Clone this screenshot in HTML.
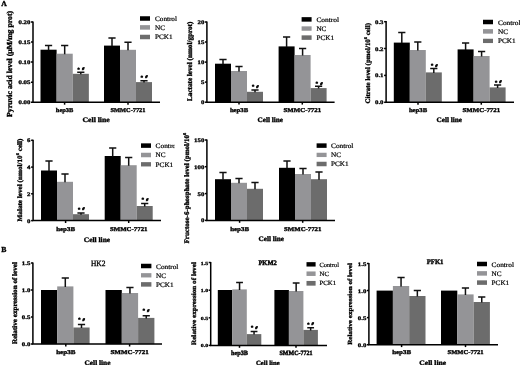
<!DOCTYPE html>
<html lang="en"><head><meta charset="utf-8"><title>Figure</title>
<style>
html,body{margin:0;padding:0;background:#fff;}
body{width:520px;height:365px;overflow:hidden;}
svg{display:block;font-family:"Liberation Serif", serif;filter:blur(0.35px);}
svg text{fill:#111;text-rendering:geometricPrecision;}
svg text.t{fill:#000;stroke:#000;stroke-width:0.3px;}
svg text.l{fill:#000;stroke:#000;stroke-width:0.2px;}
svg text.b{font-weight:bold;fill:#000;stroke:#000;stroke-width:0.34px;}
</style></head><body>
<svg width="520" height="365" viewBox="0 0 520 365">
<rect width="520" height="365" fill="#fff"/>
<g>
<rect x="40.50" y="49.70" width="16.12" height="52.60" fill="#000"/>
<path d="M48.56 50.20V45.60M44.96 45.60H52.16" stroke="#111" stroke-width="1.5" fill="none"/>
<rect x="56.62" y="53.70" width="16.12" height="48.60" fill="#949497"/>
<path d="M64.68 54.20V45.60M61.08 45.60H68.28" stroke="#111" stroke-width="1.5" fill="none"/>
<rect x="72.74" y="73.80" width="16.12" height="28.50" fill="#6c6c6c"/>
<path d="M80.80 74.30V72.20M77.20 72.20H84.40" stroke="#111" stroke-width="1.5" fill="none"/>
<rect x="104.00" y="45.60" width="16.00" height="56.70" fill="#000"/>
<path d="M112.00 46.10V38.00M108.40 38.00H115.60" stroke="#111" stroke-width="1.5" fill="none"/>
<rect x="120.00" y="49.80" width="16.00" height="52.50" fill="#949497"/>
<path d="M128.00 50.30V42.20M124.40 42.20H131.60" stroke="#111" stroke-width="1.5" fill="none"/>
<rect x="136.00" y="82.10" width="16.00" height="20.20" fill="#6c6c6c"/>
<path d="M144.00 82.60V80.70M140.40 80.70H147.60" stroke="#111" stroke-width="1.5" fill="none"/>
<path d="M33.0 21.4V102.3H160" stroke="#000" stroke-width="1.5" fill="none"/>
<path d="M31.00 22.0H33.0" stroke="#000" stroke-width="1.5"/>
<text font-size="6.28" transform="translate(30.4 24.0) scale(1.0830 0.87)" class="b" text-anchor="end">0.20</text>
<path d="M31.00 42.1H33.0" stroke="#000" stroke-width="1.5"/>
<text font-size="6.28" transform="translate(30.4 44.1) scale(1.0830 0.87)" class="b" text-anchor="end">0.15</text>
<path d="M31.00 62.1H33.0" stroke="#000" stroke-width="1.5"/>
<text font-size="6.28" transform="translate(30.4 64.1) scale(1.0830 0.87)" class="b" text-anchor="end">0.10</text>
<path d="M31.00 82.2H33.0" stroke="#000" stroke-width="1.5"/>
<text font-size="6.28" transform="translate(30.4 84.2) scale(1.0830 0.87)" class="b" text-anchor="end">0.05</text>
<path d="M31.00 102.3H33.0" stroke="#000" stroke-width="1.5"/>
<text font-size="6.28" transform="translate(30.4 104.3) scale(1.0830 0.87)" class="b" text-anchor="end">0.00</text>
<path d="M64.6 102.3V104.7" stroke="#000" stroke-width="1.5"/>
<text font-size="5.91" transform="translate(64.6 111.7) scale(1.0874 1.0)" class="b" text-anchor="middle">hep3B</text>
<path d="M128 102.3V104.7" stroke="#000" stroke-width="1.5"/>
<text font-size="5.91" transform="translate(128 111.7) scale(1.0740 1.0)" class="b" text-anchor="middle">SMMC-7721</text>
<text font-size="6.96" transform="translate(96.1 121.8) scale(1.1073 1.0)" class="b" text-anchor="middle">Cell line</text>
<text font-size="7.20" transform="translate(12.2 63.9) rotate(-90) scale(1.0801 1.07)" class="b" text-anchor="middle">Pyruvic acid level (μM/mg prot)</text>
<text font-size="4.99" transform="translate(78.7 70.95) scale(1.0830 1.0)" class="b" text-anchor="middle">*</text>
<text font-size="4.34" transform="translate(83.1 70.2) scale(1.0830 1.0)" class="b" text-anchor="middle" font-style="italic">#</text>
<text font-size="4.99" transform="translate(141.89999999999998 78.75) scale(1.0830 1.0)" class="b" text-anchor="middle">*</text>
<text font-size="4.34" transform="translate(146.29999999999998 78.0) scale(1.0830 1.0)" class="b" text-anchor="middle" font-style="italic">#</text>
<rect x="140" y="16.25" width="10.00" height="4.50" fill="#000"/>
<text font-size="6.79" transform="translate(155 21.0) scale(1.0599 1.0)" class="l">Control</text>
<rect x="140" y="25.15" width="10.00" height="4.50" fill="#949497"/>
<text font-size="6.79" transform="translate(155 29.599999999999998) scale(1.0600 1.0)" class="l">NC</text>
<rect x="140" y="34.75" width="10.00" height="4.50" fill="#6c6c6c"/>
<text font-size="6.79" transform="translate(155 39.2) scale(1.0600 1.0)" class="l">PCK1</text>
</g>
<g>
<rect x="215.00" y="63.70" width="16.00" height="38.50" fill="#000"/>
<path d="M223.00 64.20V59.60M219.40 59.60H226.60" stroke="#111" stroke-width="1.5" fill="none"/>
<rect x="231.00" y="71.00" width="16.00" height="31.20" fill="#949497"/>
<path d="M239.00 71.50V66.40M235.40 66.40H242.60" stroke="#111" stroke-width="1.5" fill="none"/>
<rect x="247.00" y="91.80" width="16.00" height="10.40" fill="#6c6c6c"/>
<path d="M255.00 92.30V90.00M251.40 90.00H258.60" stroke="#111" stroke-width="1.5" fill="none"/>
<rect x="278.60" y="46.40" width="16.00" height="55.80" fill="#000"/>
<path d="M286.60 46.90V37.00M283.00 37.00H290.20" stroke="#111" stroke-width="1.5" fill="none"/>
<rect x="294.60" y="55.00" width="16.00" height="47.20" fill="#949497"/>
<path d="M302.60 55.50V48.60M299.00 48.60H306.20" stroke="#111" stroke-width="1.5" fill="none"/>
<rect x="310.60" y="88.10" width="16.00" height="14.10" fill="#6c6c6c"/>
<path d="M318.60 88.60V86.20M315.00 86.20H322.20" stroke="#111" stroke-width="1.5" fill="none"/>
<path d="M206.9 21.4V102.2H334.6" stroke="#000" stroke-width="1.5" fill="none"/>
<path d="M204.90 22.0H206.9" stroke="#000" stroke-width="1.5"/>
<text font-size="6.28" transform="translate(204.3 24.0) scale(1.0830 0.87)" class="b" text-anchor="end">20</text>
<path d="M204.90 42.0H206.9" stroke="#000" stroke-width="1.5"/>
<text font-size="6.28" transform="translate(204.3 44.0) scale(1.0830 0.87)" class="b" text-anchor="end">15</text>
<path d="M204.90 62.1H206.9" stroke="#000" stroke-width="1.5"/>
<text font-size="6.28" transform="translate(204.3 64.1) scale(1.0830 0.87)" class="b" text-anchor="end">10</text>
<path d="M204.90 82.1H206.9" stroke="#000" stroke-width="1.5"/>
<text font-size="6.28" transform="translate(204.3 84.1) scale(1.0830 0.87)" class="b" text-anchor="end">5</text>
<path d="M204.90 102.2H206.9" stroke="#000" stroke-width="1.5"/>
<text font-size="6.28" transform="translate(204.3 104.2) scale(1.0830 0.87)" class="b" text-anchor="end">0</text>
<path d="M239 102.2V104.60000000000001" stroke="#000" stroke-width="1.5"/>
<text font-size="5.91" transform="translate(239 111.7) scale(1.1309 1.0)" class="b" text-anchor="middle">hep3B</text>
<path d="M302.3 102.2V104.60000000000001" stroke="#000" stroke-width="1.5"/>
<text font-size="5.91" transform="translate(302.3 111.7) scale(1.1570 1.0)" class="b" text-anchor="middle">SMMC-7721</text>
<text font-size="6.96" transform="translate(270.3 121.8) scale(1.0421 1.0)" class="b" text-anchor="middle">Cell line</text>
<text font-size="7.20" transform="translate(192.4 61.3) rotate(-90) scale(0.9944 1.0)" class="b" text-anchor="middle">Lactate level (nmol/gprot)</text>
<text font-size="4.99" transform="translate(253.1 88.35000000000001) scale(1.0830 1.0)" class="b" text-anchor="middle">*</text>
<text font-size="4.34" transform="translate(257.5 87.60000000000001) scale(1.0830 1.0)" class="b" text-anchor="middle" font-style="italic">#</text>
<text font-size="4.99" transform="translate(316.9 85.25) scale(1.0830 1.0)" class="b" text-anchor="middle">*</text>
<text font-size="4.34" transform="translate(321.3 84.5) scale(1.0830 1.0)" class="b" text-anchor="middle" font-style="italic">#</text>
<rect x="301.6" y="17.15" width="10.00" height="4.50" fill="#000"/>
<text font-size="6.79" transform="translate(316.4 21.9) scale(1.0937 1.0)" class="l">Control</text>
<rect x="301.6" y="26.35" width="10.00" height="4.40" fill="#949497"/>
<text font-size="6.79" transform="translate(316.4 30.75) scale(1.0600 1.0)" class="l">NC</text>
<rect x="301.6" y="35.35" width="10.00" height="4.50" fill="#6c6c6c"/>
<text font-size="6.79" transform="translate(316.4 39.800000000000004) scale(1.0600 1.0)" class="l">PCK1</text>
</g>
<g>
<rect x="393.80" y="42.60" width="16.00" height="59.70" fill="#000"/>
<path d="M401.80 43.10V32.40M398.20 32.40H405.40" stroke="#111" stroke-width="1.5" fill="none"/>
<rect x="409.80" y="50.00" width="16.00" height="52.30" fill="#949497"/>
<path d="M417.80 50.50V42.00M414.20 42.00H421.40" stroke="#111" stroke-width="1.5" fill="none"/>
<rect x="425.80" y="72.40" width="16.00" height="29.90" fill="#6c6c6c"/>
<path d="M433.80 72.90V68.40M430.20 68.40H437.40" stroke="#111" stroke-width="1.5" fill="none"/>
<rect x="457.60" y="49.40" width="16.00" height="52.90" fill="#000"/>
<path d="M465.60 49.90V43.00M462.00 43.00H469.20" stroke="#111" stroke-width="1.5" fill="none"/>
<rect x="473.60" y="56.00" width="16.00" height="46.30" fill="#949497"/>
<path d="M481.60 56.50V51.60M478.00 51.60H485.20" stroke="#111" stroke-width="1.5" fill="none"/>
<rect x="489.60" y="87.40" width="16.00" height="14.90" fill="#6c6c6c"/>
<path d="M497.60 87.90V85.00M494.00 85.00H501.20" stroke="#111" stroke-width="1.5" fill="none"/>
<path d="M386.1 21.099999999999998V102.3H514" stroke="#000" stroke-width="1.5" fill="none"/>
<path d="M384.10 21.7H386.1" stroke="#000" stroke-width="1.5"/>
<text font-size="6.28" transform="translate(383.5 23.7) scale(1.0830 0.87)" class="b" text-anchor="end">0.3</text>
<path d="M384.10 48.5H386.1" stroke="#000" stroke-width="1.5"/>
<text font-size="6.28" transform="translate(383.5 50.5) scale(1.0830 0.87)" class="b" text-anchor="end">0.2</text>
<path d="M384.10 75.4H386.1" stroke="#000" stroke-width="1.5"/>
<text font-size="6.28" transform="translate(383.5 77.4) scale(1.0830 0.87)" class="b" text-anchor="end">0.1</text>
<path d="M384.10 102.3H386.1" stroke="#000" stroke-width="1.5"/>
<text font-size="6.28" transform="translate(383.5 104.3) scale(1.0830 0.87)" class="b" text-anchor="end">0.0</text>
<path d="M418 102.3V104.7" stroke="#000" stroke-width="1.5"/>
<text font-size="5.91" transform="translate(418 111.7) scale(1.1309 1.0)" class="b" text-anchor="middle">hep3B</text>
<path d="M481.3 102.3V104.7" stroke="#000" stroke-width="1.5"/>
<text font-size="5.91" transform="translate(481.3 111.7) scale(1.1570 1.0)" class="b" text-anchor="middle">SMMC-7721</text>
<text font-size="6.96" transform="translate(449.3 122.3) scale(1.0421 1.0)" class="b" text-anchor="middle">Cell line</text>
<text font-size="7.20" transform="translate(369.6 63.25) rotate(-90) scale(0.9653 0.95)" class="b" text-anchor="middle">Citrate level (pmol/10<tspan font-size="4.46" dy="-2.59">6</tspan><tspan dy="2.59"> cell)</tspan></text>
<text font-size="4.99" transform="translate(432.09999999999997 67.35000000000001) scale(1.0830 1.0)" class="b" text-anchor="middle">*</text>
<text font-size="4.34" transform="translate(436.5 66.60000000000001) scale(1.0830 1.0)" class="b" text-anchor="middle" font-style="italic">#</text>
<text font-size="4.99" transform="translate(496.09999999999997 83.55) scale(1.0830 1.0)" class="b" text-anchor="middle">*</text>
<text font-size="4.34" transform="translate(500.5 82.8) scale(1.0830 1.0)" class="b" text-anchor="middle" font-style="italic">#</text>
<rect x="483" y="19.75" width="10.00" height="4.50" fill="#000"/>
<text font-size="6.79" transform="translate(498 24.5) scale(1.0840 1.0)" class="l">Control</text>
<rect x="483" y="29.15" width="10.00" height="4.50" fill="#949497"/>
<text font-size="6.79" transform="translate(498 33.6) scale(1.0600 1.0)" class="l">NC</text>
<rect x="483" y="38.75" width="10.00" height="4.30" fill="#6c6c6c"/>
<text font-size="6.79" transform="translate(498 43.1) scale(1.0600 1.0)" class="l">PCK1</text>
</g>
<g>
<rect x="41.00" y="170.50" width="16.00" height="50.10" fill="#000"/>
<path d="M49.00 171.00V161.00M45.40 161.00H52.60" stroke="#111" stroke-width="1.5" fill="none"/>
<rect x="57.00" y="181.80" width="16.00" height="38.80" fill="#949497"/>
<path d="M65.00 182.30V174.00M61.40 174.00H68.60" stroke="#111" stroke-width="1.5" fill="none"/>
<rect x="73.00" y="214.20" width="16.00" height="6.40" fill="#6c6c6c"/>
<path d="M81.00 214.70V213.00M77.40 213.00H84.60" stroke="#111" stroke-width="1.5" fill="none"/>
<rect x="104.70" y="156.00" width="16.00" height="64.60" fill="#000"/>
<path d="M112.70 156.50V148.00M109.10 148.00H116.30" stroke="#111" stroke-width="1.5" fill="none"/>
<rect x="120.70" y="165.20" width="16.00" height="55.40" fill="#949497"/>
<path d="M128.70 165.70V157.40M125.10 157.40H132.30" stroke="#111" stroke-width="1.5" fill="none"/>
<rect x="136.70" y="206.00" width="16.00" height="14.60" fill="#6c6c6c"/>
<path d="M144.70 206.50V203.50M141.10 203.50H148.30" stroke="#111" stroke-width="1.5" fill="none"/>
<path d="M33.1 139.70000000000002V220.6H161" stroke="#000" stroke-width="1.5" fill="none"/>
<path d="M31.10 140.3H33.1" stroke="#000" stroke-width="1.5"/>
<text font-size="6.28" transform="translate(30.5 142.3) scale(1.0830 0.87)" class="b" text-anchor="end">6</text>
<path d="M31.10 167.1H33.1" stroke="#000" stroke-width="1.5"/>
<text font-size="6.28" transform="translate(30.5 169.1) scale(1.0830 0.87)" class="b" text-anchor="end">4</text>
<path d="M31.10 193.8H33.1" stroke="#000" stroke-width="1.5"/>
<text font-size="6.28" transform="translate(30.5 195.8) scale(1.0830 0.87)" class="b" text-anchor="end">2</text>
<path d="M31.10 220.6H33.1" stroke="#000" stroke-width="1.5"/>
<text font-size="6.28" transform="translate(30.5 222.6) scale(1.0830 0.87)" class="b" text-anchor="end">0</text>
<path d="M65.6 220.6V223.0" stroke="#000" stroke-width="1.5"/>
<text font-size="5.91" transform="translate(65.6 230.70000000000002) scale(1.1744 1.0)" class="b" text-anchor="middle">hep3B</text>
<path d="M128.7 220.6V223.0" stroke="#000" stroke-width="1.5"/>
<text font-size="5.91" transform="translate(128.7 230.70000000000002) scale(1.1540 1.0)" class="b" text-anchor="middle">SMMC-7721</text>
<text font-size="6.96" transform="translate(97 241.7) scale(1.0706 1.0)" class="b" text-anchor="middle">Cell line</text>
<text font-size="7.20" transform="translate(21.8 180.0) rotate(-90) scale(0.9976 0.95)" class="b" text-anchor="middle">Malate level (nmol/10<tspan font-size="4.46" dy="-2.59">6</tspan><tspan dy="2.59"> cell)</tspan></text>
<text font-size="4.99" transform="translate(79.10000000000001 210.75) scale(1.0830 1.0)" class="b" text-anchor="middle">*</text>
<text font-size="4.34" transform="translate(83.5 210.0) scale(1.0830 1.0)" class="b" text-anchor="middle" font-style="italic">#</text>
<text font-size="4.99" transform="translate(142.79999999999998 201.25) scale(1.0830 1.0)" class="b" text-anchor="middle">*</text>
<text font-size="4.34" transform="translate(147.2 200.5) scale(1.0830 1.0)" class="b" text-anchor="middle" font-style="italic">#</text>
<rect x="141" y="143.35" width="10.00" height="4.50" fill="#000"/>
<text font-size="6.79" transform="translate(155.6 148.1) scale(1.0840 1.0)" class="l">Control</text>
<rect x="141" y="152.75" width="10.00" height="4.50" fill="#949497"/>
<text font-size="6.79" transform="translate(155.6 157.2) scale(1.0600 1.0)" class="l">NC</text>
<rect x="141" y="162.15" width="10.00" height="4.30" fill="#6c6c6c"/>
<text font-size="6.79" transform="translate(155.6 166.5) scale(1.0600 1.0)" class="l">PCK1</text>
</g>
<rect x="174.6" y="136" width="20" height="20" fill="#fff"/>
<g>
<rect x="215.00" y="179.20" width="16.00" height="41.20" fill="#000"/>
<path d="M223.00 179.70V172.40M219.40 172.40H226.60" stroke="#111" stroke-width="1.5" fill="none"/>
<rect x="231.00" y="182.80" width="16.00" height="37.60" fill="#949497"/>
<path d="M239.00 183.30V178.60M235.40 178.60H242.60" stroke="#111" stroke-width="1.5" fill="none"/>
<rect x="247.00" y="188.80" width="16.00" height="31.60" fill="#6c6c6c"/>
<path d="M255.00 189.30V182.60M251.40 182.60H258.60" stroke="#111" stroke-width="1.5" fill="none"/>
<rect x="279.00" y="167.80" width="16.00" height="52.60" fill="#000"/>
<path d="M287.00 168.30V161.00M283.40 161.00H290.60" stroke="#111" stroke-width="1.5" fill="none"/>
<rect x="295.00" y="174.00" width="16.00" height="46.40" fill="#949497"/>
<path d="M303.00 174.50V168.60M299.40 168.60H306.60" stroke="#111" stroke-width="1.5" fill="none"/>
<rect x="311.00" y="179.20" width="16.00" height="41.20" fill="#6c6c6c"/>
<path d="M319.00 179.70V172.00M315.40 172.00H322.60" stroke="#111" stroke-width="1.5" fill="none"/>
<path d="M206.9 139.4V220.4H335" stroke="#000" stroke-width="1.5" fill="none"/>
<path d="M204.90 140H206.9" stroke="#000" stroke-width="1.5"/>
<text font-size="6.28" transform="translate(204.3 142.0) scale(1.0830 0.87)" class="b" text-anchor="end">150</text>
<path d="M204.90 166.7H206.9" stroke="#000" stroke-width="1.5"/>
<text font-size="6.28" transform="translate(204.3 168.7) scale(1.0830 0.87)" class="b" text-anchor="end">100</text>
<path d="M204.90 193.6H206.9" stroke="#000" stroke-width="1.5"/>
<text font-size="6.28" transform="translate(204.3 195.6) scale(1.0830 0.87)" class="b" text-anchor="end">50</text>
<path d="M204.90 220.4H206.9" stroke="#000" stroke-width="1.5"/>
<text font-size="6.28" transform="translate(204.3 222.4) scale(1.0830 0.87)" class="b" text-anchor="end">0</text>
<path d="M239.6 220.4V222.8" stroke="#000" stroke-width="1.5"/>
<text font-size="5.91" transform="translate(239.6 230.70000000000002) scale(1.1744 1.0)" class="b" text-anchor="middle">hep3B</text>
<path d="M302.7 220.4V222.8" stroke="#000" stroke-width="1.5"/>
<text font-size="5.91" transform="translate(302.7 230.70000000000002) scale(1.1509 1.0)" class="b" text-anchor="middle">SMMC-7721</text>
<text font-size="6.96" transform="translate(271.3 241.4) scale(1.0381 1.0)" class="b" text-anchor="middle">Cell line</text>
<text font-size="7.20" transform="translate(189 188.15) rotate(-90) scale(0.9726 0.97)" class="b" text-anchor="middle">Fructose-6-phosphate level (pmol/10<tspan font-size="4.46" dy="-2.59">6</tspan></text>
<rect x="316.6" y="143.35" width="10.00" height="4.50" fill="#000"/>
<text font-size="6.79" transform="translate(331 148.1) scale(1.0792 1.0)" class="l">Control</text>
<rect x="316.6" y="152.75" width="10.00" height="4.30" fill="#949497"/>
<text font-size="6.79" transform="translate(331 157.1) scale(1.0600 1.0)" class="l">NC</text>
<rect x="316.6" y="161.75" width="10.00" height="4.50" fill="#6c6c6c"/>
<text font-size="6.79" transform="translate(331 166.2) scale(1.0600 1.0)" class="l">PCK1</text>
</g>
<g>
<rect x="41.00" y="290.00" width="16.20" height="54.10" fill="#000"/>
<rect x="57.20" y="286.40" width="16.20" height="57.70" fill="#949497"/>
<path d="M65.30 286.90V278.00M61.70 278.00H68.90" stroke="#111" stroke-width="1.5" fill="none"/>
<rect x="73.40" y="327.50" width="16.20" height="16.60" fill="#6c6c6c"/>
<path d="M81.50 328.00V324.40M77.90 324.40H85.10" stroke="#111" stroke-width="1.5" fill="none"/>
<rect x="105.50" y="290.00" width="16.30" height="54.10" fill="#000"/>
<rect x="121.80" y="293.00" width="16.30" height="51.10" fill="#949497"/>
<path d="M129.95 293.50V287.40M126.35 287.40H133.55" stroke="#111" stroke-width="1.5" fill="none"/>
<rect x="138.10" y="317.90" width="16.30" height="26.20" fill="#6c6c6c"/>
<path d="M146.25 318.40V315.70M142.65 315.70H149.85" stroke="#111" stroke-width="1.5" fill="none"/>
<path d="M32.9 262.4V344.1H162" stroke="#000" stroke-width="1.5" fill="none"/>
<path d="M30.90 263H32.9" stroke="#000" stroke-width="1.5"/>
<text font-size="6.28" transform="translate(30.299999999999997 265.0) scale(1.0830 0.87)" class="b" text-anchor="end">1.5</text>
<path d="M30.90 290H32.9" stroke="#000" stroke-width="1.5"/>
<text font-size="6.28" transform="translate(30.299999999999997 292.0) scale(1.0830 0.87)" class="b" text-anchor="end">1.0</text>
<path d="M30.90 317H32.9" stroke="#000" stroke-width="1.5"/>
<text font-size="6.28" transform="translate(30.299999999999997 319.0) scale(1.0830 0.87)" class="b" text-anchor="end">0.5</text>
<path d="M30.90 344H32.9" stroke="#000" stroke-width="1.5"/>
<text font-size="6.28" transform="translate(30.299999999999997 346.0) scale(1.0830 0.87)" class="b" text-anchor="end">0.0</text>
<path d="M65.8 344.1V346.5" stroke="#000" stroke-width="1.5"/>
<text font-size="5.91" transform="translate(65.8 353.7) scale(1.1993 1.0)" class="b" text-anchor="middle">hep3B</text>
<path d="M129.6 344.1V346.5" stroke="#000" stroke-width="1.5"/>
<text font-size="5.91" transform="translate(129.6 353.7) scale(1.1817 1.0)" class="b" text-anchor="middle">SMMC-7721</text>
<text font-size="6.96" transform="translate(97.5 364.70000000000005) scale(1.0584 1.0)" class="b" text-anchor="middle">Cell line</text>
<text font-size="7.20" transform="translate(17.2 303.0) rotate(-90) scale(0.9898 0.97)" class="b" text-anchor="middle">Relative expression of level</text>
<text font-size="4.99" transform="translate(79.3 321.34999999999997) scale(1.0830 1.0)" class="b" text-anchor="middle">*</text>
<text font-size="4.34" transform="translate(83.69999999999999 320.59999999999997) scale(1.0830 1.0)" class="b" text-anchor="middle" font-style="italic">#</text>
<text font-size="4.99" transform="translate(143.79999999999998 312.34999999999997) scale(1.0830 1.0)" class="b" text-anchor="middle">*</text>
<text font-size="4.34" transform="translate(148.2 311.59999999999997) scale(1.0830 1.0)" class="b" text-anchor="middle" font-style="italic">#</text>
<rect x="141" y="263.75" width="10.40" height="4.50" fill="#000"/>
<text font-size="6.79" transform="translate(156 268.5) scale(1.0792 1.0)" class="l">Control</text>
<rect x="141" y="273.15" width="10.40" height="4.30" fill="#949497"/>
<text font-size="6.79" transform="translate(156 277.49999999999994) scale(1.0600 1.0)" class="l">NC</text>
<rect x="141" y="282.15" width="10.40" height="4.50" fill="#6c6c6c"/>
<text font-size="6.79" transform="translate(156 286.59999999999997) scale(1.0600 1.0)" class="l">PCK1</text>
<text font-size="7.50" transform="translate(98.2 265.7) scale(1.0000 1.08)" text-anchor="middle" class="t">HK2</text>
</g>
<g>
<rect x="217.80" y="290.00" width="14.50" height="55.40" fill="#000"/>
<rect x="232.30" y="289.40" width="14.50" height="56.00" fill="#949497"/>
<path d="M239.55 289.90V282.60M236.15 282.60H242.95" stroke="#111" stroke-width="1.5" fill="none"/>
<rect x="246.80" y="334.10" width="14.50" height="11.30" fill="#6c6c6c"/>
<path d="M254.05 334.60V331.50M250.65 331.50H257.45" stroke="#111" stroke-width="1.5" fill="none"/>
<rect x="274.40" y="290.00" width="14.50" height="55.40" fill="#000"/>
<rect x="288.90" y="291.00" width="14.50" height="54.40" fill="#949497"/>
<path d="M296.15 291.50V283.00M292.75 283.00H299.55" stroke="#111" stroke-width="1.5" fill="none"/>
<rect x="303.40" y="329.90" width="14.50" height="15.50" fill="#6c6c6c"/>
<path d="M310.65 330.40V327.70M307.25 327.70H314.05" stroke="#111" stroke-width="1.5" fill="none"/>
<path d="M210.7 261.9V345.4H327" stroke="#000" stroke-width="1.5" fill="none"/>
<path d="M208.70 262.5H210.7" stroke="#000" stroke-width="1.5"/>
<text font-size="5.45" transform="translate(208.1 264.5) scale(1.0830 0.87)" class="b" text-anchor="end">1.5</text>
<path d="M208.70 290.2H210.7" stroke="#000" stroke-width="1.5"/>
<text font-size="5.45" transform="translate(208.1 292.2) scale(1.0830 0.87)" class="b" text-anchor="end">1.0</text>
<path d="M208.70 317.8H210.7" stroke="#000" stroke-width="1.5"/>
<text font-size="5.45" transform="translate(208.1 319.8) scale(1.0830 0.87)" class="b" text-anchor="end">0.5</text>
<path d="M208.70 345.4H210.7" stroke="#000" stroke-width="1.5"/>
<text font-size="5.45" transform="translate(208.1 347.4) scale(1.0830 0.87)" class="b" text-anchor="end">0.0</text>
<path d="M239.5 345.4V347.79999999999995" stroke="#000" stroke-width="1.5"/>
<text font-size="5.63" transform="translate(239.5 354.9) scale(1.1148 1.15)" class="b" text-anchor="middle">hep3B</text>
<path d="M296 345.4V347.79999999999995" stroke="#000" stroke-width="1.5"/>
<text font-size="5.63" transform="translate(296 354.9) scale(1.0687 1.15)" class="b" text-anchor="middle">SMMC-7721</text>
<text font-size="6.43" transform="translate(267.8 365.3) scale(1.0452 1.0)" class="b" text-anchor="middle">Cell line</text>
<text font-size="7.20" transform="translate(196.2 303.55) rotate(-90) scale(1.0030 0.92)" class="b" text-anchor="middle">Relative expression of level</text>
<text font-size="4.99" transform="translate(252.0 329.34999999999997) scale(1.0830 1.0)" class="b" text-anchor="middle">*</text>
<text font-size="4.34" transform="translate(256.40000000000003 328.59999999999997) scale(1.0830 1.0)" class="b" text-anchor="middle" font-style="italic">#</text>
<text font-size="4.99" transform="translate(308.3 325.95) scale(1.0830 1.0)" class="b" text-anchor="middle">*</text>
<text font-size="4.34" transform="translate(312.70000000000005 325.2) scale(1.0830 1.0)" class="b" text-anchor="middle" font-style="italic">#</text>
<rect x="306.5" y="262.15" width="9.10" height="4.40" fill="#000"/>
<text font-size="6.42" transform="translate(319.5 266.55) scale(0.9948 1.0)" class="l">Control</text>
<rect x="306.5" y="271.45" width="9.10" height="4.50" fill="#949497"/>
<text font-size="6.42" transform="translate(319.5 275.59999999999997) scale(1.0600 1.0)" class="l">NC</text>
<rect x="306.5" y="280.95" width="9.10" height="4.70" fill="#6c6c6c"/>
<text font-size="6.42" transform="translate(319.5 285.19999999999993) scale(1.0600 1.0)" class="l">PCK1</text>
<text font-size="6.00" transform="translate(267.6 265.2) scale(1.0830 1.13)" class="b" text-anchor="middle">PKM2</text>
</g>
<g>
<rect x="376.60" y="290.60" width="16.30" height="54.10" fill="#000"/>
<rect x="392.90" y="286.00" width="16.30" height="58.70" fill="#949497"/>
<path d="M401.05 286.50V277.40M397.45 277.40H404.65" stroke="#111" stroke-width="1.5" fill="none"/>
<rect x="409.20" y="296.00" width="16.30" height="48.70" fill="#6c6c6c"/>
<path d="M417.35 296.50V290.60M413.75 290.60H420.95" stroke="#111" stroke-width="1.5" fill="none"/>
<rect x="441.00" y="290.60" width="16.30" height="54.10" fill="#000"/>
<rect x="457.30" y="294.40" width="16.30" height="50.30" fill="#949497"/>
<path d="M465.45 294.90V288.00M461.85 288.00H469.05" stroke="#111" stroke-width="1.5" fill="none"/>
<rect x="473.60" y="302.00" width="16.30" height="42.70" fill="#6c6c6c"/>
<path d="M481.75 302.50V297.00M478.15 297.00H485.35" stroke="#111" stroke-width="1.5" fill="none"/>
<path d="M368.9 262.9V344.7H498" stroke="#000" stroke-width="1.5" fill="none"/>
<path d="M366.90 263.5H368.9" stroke="#000" stroke-width="1.5"/>
<text font-size="6.28" transform="translate(366.29999999999995 265.5) scale(1.0830 0.87)" class="b" text-anchor="end">1.5</text>
<path d="M366.90 290.5H368.9" stroke="#000" stroke-width="1.5"/>
<text font-size="6.28" transform="translate(366.29999999999995 292.5) scale(1.0830 0.87)" class="b" text-anchor="end">1.0</text>
<path d="M366.90 317.6H368.9" stroke="#000" stroke-width="1.5"/>
<text font-size="6.28" transform="translate(366.29999999999995 319.6) scale(1.0830 0.87)" class="b" text-anchor="end">0.5</text>
<path d="M366.90 344.7H368.9" stroke="#000" stroke-width="1.5"/>
<text font-size="6.28" transform="translate(366.29999999999995 346.7) scale(1.0830 0.87)" class="b" text-anchor="end">0.0</text>
<path d="M401.6 344.7V347.09999999999997" stroke="#000" stroke-width="1.5"/>
<text font-size="5.91" transform="translate(401.6 353.7) scale(1.1744 1.0)" class="b" text-anchor="middle">hep3B</text>
<path d="M465.5 344.7V347.09999999999997" stroke="#000" stroke-width="1.5"/>
<text font-size="5.91" transform="translate(465.5 353.7) scale(1.1047 1.0)" class="b" text-anchor="middle">SMMC-7721</text>
<text font-size="6.96" transform="translate(432.7 364.70000000000005) scale(1.0991 1.0)" class="b" text-anchor="middle">Cell line</text>
<text font-size="7.20" transform="translate(352.2 303.95) rotate(-90) scale(0.9886 0.88)" class="b" text-anchor="middle">Relative expression of level</text>
<rect x="477" y="261.75" width="10.00" height="4.50" fill="#000"/>
<text font-size="6.79" transform="translate(491.6 266.5) scale(1.0792 1.0)" class="l">Control</text>
<rect x="477" y="271.15" width="10.00" height="4.50" fill="#949497"/>
<text font-size="6.79" transform="translate(491.6 275.59999999999997) scale(1.0600 1.0)" class="l">NC</text>
<rect x="477" y="280.35" width="10.00" height="4.50" fill="#6c6c6c"/>
<text font-size="6.79" transform="translate(491.6 284.8) scale(1.0600 1.0)" class="l">PCK1</text>
<text font-size="6.19" transform="translate(435.1 263.6) scale(1.0830 1.13)" class="b" text-anchor="middle">PFK1</text>
</g>
<text font-size="7.70" transform="translate(1.2 6.0) scale(1.0000 1.0)" class="b">A</text>
<text font-size="7.70" transform="translate(1.3 251.6) scale(1.0000 1.0)" class="b">B</text>
</svg>
</body></html>
